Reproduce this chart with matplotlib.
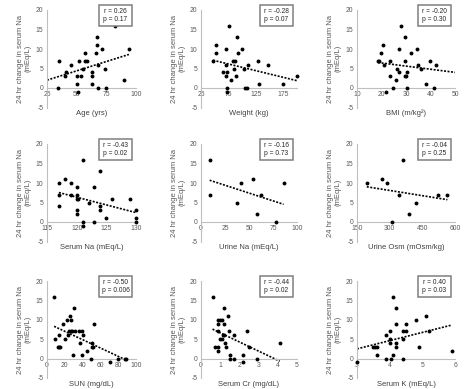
import numpy as np
import matplotlib
matplotlib.use("Agg")
import matplotlib.pyplot as plt
from matplotlib.patches import Rectangle

plt.rcParams['font.family'] = ['Liberation Sans', 'DejaVu Sans']
plt.rcParams['axes.unicode_minus'] = False

# ---------------- data ----------------
age = [34, 35, 40, 41, 45, 50, 50, 51, 52, 54, 55, 57, 57, 59, 63, 63, 63, 66, 67, 67, 68, 68, 71, 74, 75, 82, 90, 94]
dna_age = [0, 7, 3, 4, 6, 3, 1, -1, 7, 3, 5, 7, 9, 7, 4, 3, 1, 9, 13, 11, 6, 0, 10, 5, 0, 16, 2, 10]

weight = [47, 52, 53, 66, 70, 71, 71, 73, 73, 72.5, 76, 80, 83, 85, 87, 88, 91, 92, 100, 103, 105, 108, 111, 128, 131, 148, 175, 200]
dna_weight = [7, 11, 9, 4, 3, 6, 10, 4, 0, -1, 16, 2, 7, 5, 7, 3, 13, 9, 10, 5, 0, 0, 6, 7, 1, 6, 1, 3]

bmi = [18.6, 18.9, 19.9, 20.7, 21, 21.7, 23.6, 23.6, 24.6, 26, 26.3, 27, 27.2, 28, 29.4, 29.7, 29.7, 30, 30.6, 30.6, 31.9, 34.6, 34.8, 36.3, 38, 39.7, 41.6, 42.2]
dna_bmi = [7, 7, 9, 11, 6, -1, 7, 3, 0, 2, 5, 10, 4, 16, 3, 13, 7, 3, 4, 0, 9, 10, 6, 5, 1, 7, 0, 6]

serum_na = [117, 117, 117, 118, 119, 119, 120, 120, 120, 120.2, 120, 120, 121, 121, 121, 122, 123, 123, 124, 124, 124, 125, 126, 129, 130, 130, 130]
dna_serum_na = [10, 7, 4, 11, 10, 7, 9, 7, 6, 6, 3, 2, 16, 0, -1, 5, 9, 0, 13, 4, 3, 1, 6, 6, 3, 1, 0]

urine_na = [9, 9, 37, 42, 54, 58, 62, 78, 86]
dna_urine_na = [16, 7, 5, 10, 11, 2, 7, 0, 10]

urine_osm = [195, 265, 288, 310, 360, 345, 390, 422, 523, 565]
dna_urine_osm = [10, 11, 10, 0, 16, 7, 2, 5, 7, 7]

sun = [8, 9, 12, 14, 14, 15, 18, 20, 22, 24, 25, 26, 27, 27, 28, 29, 30, 32, 36, 37, 39, 39, 41, 45, 49, 50, 51, 52, 53, 71, 80, 88, 89]
dna_sun = [16, 5, 3, 3, 6, 3, 9, 5, 10, 6, 7, 11, 10, 7, 7, 1, 13, 7, 7, 4, 7, 1, 6, 2, 0, 4, 3, 3, 9, -1, 0, 0, 0]

serum_cr = [0.6, 0.72, 0.9, 0.9, 0.9, 0.9, 0.9, 1.0, 1.0, 1.1, 1.1, 1.15, 1.2, 1.2, 1.2, 1.25, 1.3, 1.4, 1.45, 1.5, 1.5, 1.7, 1.7, 2.2, 2.2, 2.4, 2.5, 2.9, 4.1]
dna_serum_cr = [16, 3, 10, 9, 7, 3, 2, 10, 5, 10, 5, 6, 9, 6, 13, 4, 3, 11, 7, 1, 0, 6, 0, 1, -1, 7, 3, 0, 4]

serum_k = [3.0, 3.5, 3.55, 3.6, 3.6, 3.9, 3.9, 4.0, 4.0, 4.0, 4.05, 4.1, 4.1, 4.2, 4.2, 4.2, 4.2, 4.4, 4.4, 4.4, 4.5, 4.5, 4.8, 4.9, 5.1, 5.2, 5.9]
dna_serum_k = [-1, 3, 3, 3, 1, 6, 0, 7, 5, 4, 0, 16, 1, 13, 9, 4, 3, 7, 5, 0, 9, 7, 10, 3, 11, 7, 2]

xlabels = ["Age (yrs)", "Weight (kg)", "BMI (m/kg\u00b2)",
           "Serum Na (mEq/L)", "Urine Na (mEq/L)", "Urine Osm (mOsm/kg)",
           "SUN (mg/dL)", "Serum Cr (mg/dL)", "Serum K (mEq/L)"]
r_vals = ["0.26", "-0.28", "-0.20", "-0.43", "-0.16", "-0.04", "-0.50", "-0.44", "0.40"]
p_vals = ["0.17", "0.07", "0.30", "0.02", "0.73", "0.25", "0.006", "0.02", "0.03"]
x_ticks = [[25, 50, 75, 100], [25, 75, 125, 175], [10, 20, 30, 40, 50],
           [115, 120, 125, 130], [0, 25, 50, 75, 100], [150, 300, 450, 600],
           [0, 20, 40, 60, 80, 100], [0, 1, 2, 3, 4, 5], [3, 4, 5, 6]]
y_ticks = [-5, 0, 5, 10, 15, 20]

xs = [age, weight, bmi, serum_na, urine_na, urine_osm, sun, serum_cr, serum_k]
ys = [dna_age, dna_weight, dna_bmi, dna_serum_na, dna_urine_na, dna_urine_osm, dna_sun, dna_serum_cr, dna_serum_k]

# ---------------- layout / style ----------------
W, H = 474, 389
fig = plt.figure(figsize=(W / 100, H / 100), dpi=100)

col_px = [(47, 136), (201, 297), (357, 455)]
row_px = [(10, 107.5), (144, 241.5), (281, 378)]
xlims = [(25, 100), (25, 200), (10, 50), (115, 130), (0, 100), (150, 600),
         (0, 100), (0, 5), (3, 6)]
# trend line extents (where the drawn trendline starts / ends)
trend_ext = [(25, None), (None, None), (None, 50), (None, None), (None, None),
             (None, None), (None, None), (None, None), (None, None)]

GRAY_AX = '#bfbfbf'
GRAY_TXT = '#595959'

for i in range(9):
    r, c = divmod(i, 3)
    x0, x1 = col_px[c]
    yt, yb = row_px[r]
    ax = fig.add_axes([x0 / W, 1 - yb / H, (x1 - x0) / W, (yb - yt) / H])
    x = np.array(xs[i], dtype=float)
    y = np.array(ys[i], dtype=float)
    ax.plot(x, y, 'o', color='black', ms=2.8, mec='black', mew=0, clip_on=False, zorder=3)

    # least-squares trendline
    slope, icpt = np.polyfit(x, y, 1)
    lo = trend_ext[i][0] if trend_ext[i][0] is not None else x.min()
    hi = trend_ext[i][1] if trend_ext[i][1] is not None else x.max()
    xx = np.array([lo, hi])
    ax.plot(xx, slope * xx + icpt, color='black', lw=1.2, ls=(0, (1.2, 0.9)), zorder=2)

    ax.set_xlim(*xlims[i])
    ax.set_ylim(-5, 20)
    ax.set_xticks(x_ticks[i])
    ax.set_yticks(y_ticks)
    for s in ['top', 'right']:
        ax.spines[s].set_visible(False)
    ax.spines['bottom'].set_position(('data', 0))
    ax.spines['bottom'].set_color(GRAY_AX)
    ax.spines['left'].set_color(GRAY_AX)
    ax.spines['bottom'].set_linewidth(0.8)
    ax.spines['left'].set_linewidth(0.8)
    ax.tick_params(length=0, labelsize=4.9, colors=GRAY_TXT, pad=2.5)
    ax.set_facecolor('none')

    hpx = yb - yt
    wpx = x1 - x0
    ax.text(0.5, -6 / hpx, xlabels[i], transform=ax.transAxes, ha='center', va='center',
            fontsize=5.5, color='#404040')
    ax.text(-22.5 / wpx, 0.5, "24 hr change in serum Na\n(mEq/L)", transform=ax.transAxes,
            rotation=90, ha='center', va='center', multialignment='center',
            fontsize=5.5, color=GRAY_TXT, linespacing=1.15)

    # stats box (pixel geometry relative to axes)
    bw, bh = 33, 21
    bx1 = x1 - 4
    bx0 = bx1 - bw
    by0 = yt - 5
    rect = Rectangle((bx0 / W, 1 - (by0 + bh) / H), bw / W, bh / H, transform=fig.transFigure,
                     fc='white', ec='#7f7f7f', lw=1.1, zorder=5)
    fig.patches.append(rect)
    fig.text((bx0 + bw / 2) / W, 1 - (by0 + bh / 2) / H, f"r = {r_vals[i]}\np = {p_vals[i]}",
             ha='center', va='center', fontsize=4.8, color='#262626', zorder=6, linespacing=1.3)

fig.savefig('out.png', dpi=100, facecolor='white')
